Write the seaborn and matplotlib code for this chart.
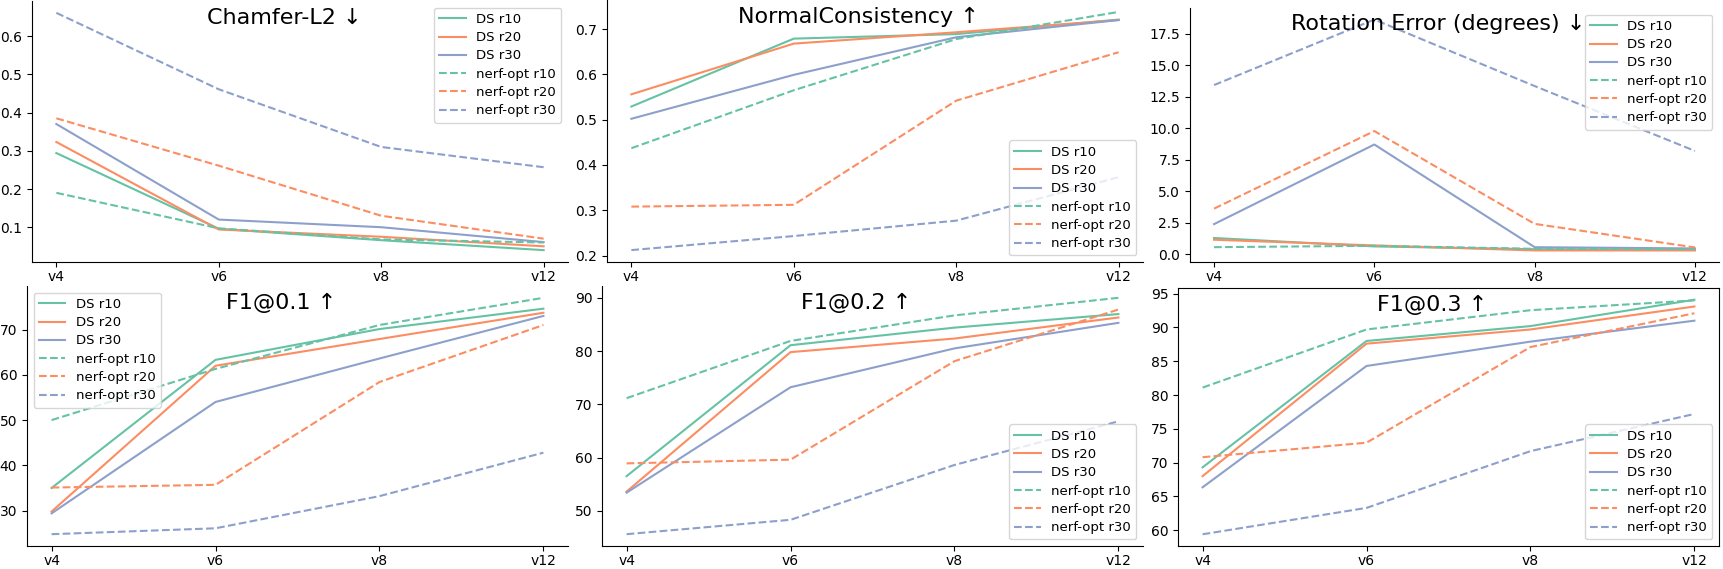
import numpy as np
import pandas as pd
import seaborn as sns
import matplotlib.pyplot as plt

# x categories and series names
views = ["v4", "v6", "v8", "v12"]
series = ["DS r10", "DS r20", "DS r30", "nerf-opt r10", "nerf-opt r20", "nerf-opt r30"]

# one row per series
chamfer_l2 = [
    [0.294, 0.096, 0.066, 0.040],
    [0.323, 0.094, 0.075, 0.050],
    [0.370, 0.120, 0.100, 0.061],
    [0.190, 0.097, 0.068, 0.060],
    [0.385, 0.261, 0.130, 0.070],
    [0.661, 0.461, 0.310, 0.257],
]
normal_consistency = [
    [0.529, 0.679, 0.689, 0.721],
    [0.556, 0.668, 0.693, 0.720],
    [0.502, 0.599, 0.682, 0.720],
    [0.437, 0.565, 0.678, 0.738],
    [0.308, 0.312, 0.542, 0.649],
    [0.212, 0.243, 0.277, 0.373],
]
rotation_error = [
    [1.29, 0.62, 0.40, 0.35],
    [1.15, 0.70, 0.30, 0.30],
    [2.39, 8.71, 0.56, 0.46],
    [0.56, 0.67, 0.43, 0.40],
    [3.62, 9.78, 2.41, 0.54],
    [13.43, 18.63, 13.35, 8.20],
]
f1_01 = [
    [35.0, 63.3, 70.1, 74.6],
    [29.8, 62.0, 67.9, 73.7],
    [29.4, 54.0, 63.6, 73.0],
    [50.0, 61.3, 71.0, 77.0],
    [35.1, 35.7, 58.4, 71.0],
    [24.8, 26.1, 33.2, 42.8],
]
f1_02 = [
    [56.5, 81.1, 84.4, 86.95],
    [53.6, 79.8, 82.35, 86.3],
    [53.4, 73.2, 80.5, 85.3],
    [71.15, 81.9, 86.7, 90.0],
    [58.9, 59.6, 78.1, 87.8],
    [45.6, 48.3, 58.6, 66.8],
]
f1_03 = [
    [69.3, 88.0, 90.2, 94.1],
    [68.0, 87.6, 89.7, 93.1],
    [66.35, 84.3, 87.9, 91.0],
    [81.1, 89.7, 92.55, 94.0],
    [70.8, 72.95, 87.1, 92.1],
    [59.4, 63.3, 71.7, 77.2],
]

panels = [
    ("Chamfer-L2 ↓", chamfer_l2, "upper right", [32, 568, 1, 262]),
    ("NormalConsistency ↑", normal_consistency, "lower right", [607, 1143, 0, 262]),
    ("Rotation Error (degrees) ↓", rotation_error, "upper right", [1190, 1719, 8, 262]),
    ("F1@0.1 ↑", f1_01, "upper left", [27, 568, 286, 546]),
    ("F1@0.2 ↑", f1_02, "lower right", [602, 1143, 286, 546]),
    ("F1@0.3 ↑", f1_03, "lower right", [1178, 1719, 288, 546]),
]

set2 = sns.color_palette("Set2")
palette = {s: set2[i % 3] for i, s in enumerate(series)}
dashes = {s: ("" if s.startswith("DS") else (3.7, 1.6)) for s in series}

W, H = 1724, 569
fig = plt.figure(figsize=(W / 100, H / 100), dpi=100)

for i, (title, values, loc, (x0, x1, y0, y1)) in enumerate(panels):
    ax = fig.add_axes([x0 / W, (H - y1) / H, (x1 - x0) / W, (y1 - y0) / H])

    rows = []
    for s, vals in zip(series, values):
        for v, val in zip(views, vals):
            rows.append({"view": v, "value": val, "label": s})
    df = pd.DataFrame(rows)

    sns.lineplot(data=df, x="view", y="value", hue="label", style="label",
                 palette=palette, dashes=dashes, linewidth=1.5, ax=ax)
    ax.set_xlabel("")
    ax.set_ylabel("")
    ax.tick_params(labelsize=10)
    ax.tick_params(axis="x", pad=2)
    ax.set_title(title, fontsize=16, x=0.47, y=0.88)
    sns.move_legend(ax, loc, title=None, fontsize=9.5, labelspacing=0.4)

    if i < 5:
        sns.despine(ax=ax)

fig.savefig("out.png", dpi=100)
